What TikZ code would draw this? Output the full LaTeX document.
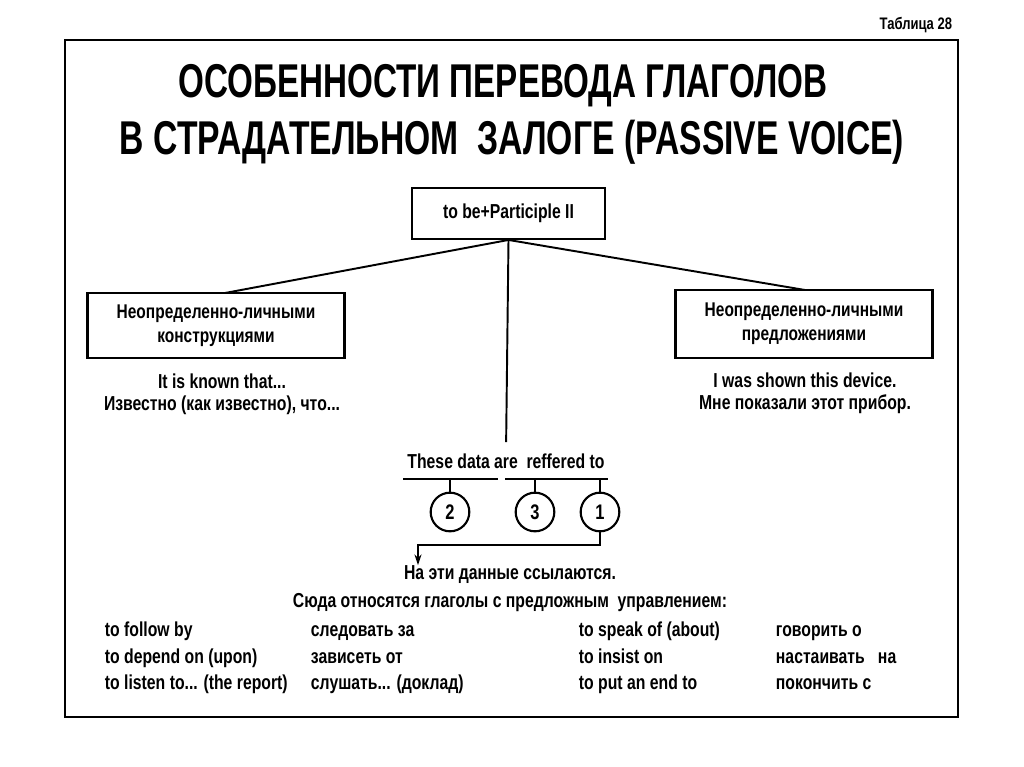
\documentclass[tikz,border=0pt]{standalone}
\usepackage{fontspec}
\setmainfont{Liberation Sans}[FakeStretch=0.78]
\newfontfamily\titlefont{Liberation Sans}[FakeStretch=0.70]
\usetikzlibrary{arrows.meta}
\begin{document}
\begin{tikzpicture}[x=0.02cm,y=-0.02cm,
  line width=1.1pt,
  box/.style={draw,line width=1.2pt,align=center,font=\bfseries\fontsize{11.3}{13.6}\selectfont,inner sep=0pt},
  txt/.style={font=\bfseries\fontsize{11.5}{12.5}\selectfont,inner sep=0pt,align=center},
  ltxt/.style={font=\bfseries\fontsize{11.5}{12.5}\selectfont,inner sep=0pt,anchor=base west},
  title/.style={font=\titlefont\bfseries\fontsize{27}{30}\selectfont,inner sep=0pt},
  circ/.style={draw,circle,minimum size=22pt,inner sep=0pt,font=\bfseries\fontsize{12}{12}\selectfont,line width=1.2pt}
]
\useasboundingbox (0,0) rectangle (1024,767);
\draw[line width=1.4pt] (65,40) rectangle (958,717);
\node[font=\bfseries\fontsize{9.5}{12}\selectfont,inner sep=0pt,anchor=east] (tab) at (953,25) {Таблица 28};
\node[title] (t1) at (503,86) {ОСОБЕННОСТИ ПЕРЕВОДА ГЛАГОЛОВ};
\node[title,font=\titlefont\bfseries\fontsize{27}{30}\selectfont] (t2) at (512,142) {\addfontfeature{FakeStretch=0.71}В СТРАДАТЕЛЬНОМ\ \ ЗАЛОГЕ (PASSIVE VOICE)};
\node[box,minimum width=109.4pt,minimum height=28.9pt,font=\bfseries\fontsize{11.5}{13}\selectfont] (top) at (508.5,213.5) {to be+Participle II};
\node[box,minimum width=146.3pt,minimum height=36.9pt] (L) at (216,325.5) {Неопределенно-личными\\конструкциями};
\node[box,minimum width=146.3pt,minimum height=38.6pt] (R) at (804,324) {Неопределенно-личными\\предложениями};
\coordinate (lt) at (225,293);
\coordinate (rt) at (805,290);
\draw (top.south) -- (lt);
\draw (top.south) -- (rt);
\node[txt] (le) at (222,394) {It is known that...\\Известно (как известно), что...};
\node[txt] (re) at (805,393) {I was shown this device.\\Мне показали этот прибор.};
\node[txt] (tdata) at (506,461) {These data are\ \ reffered to};
\draw[shorten >=6pt] (top.south) -- (tdata.north);
\coordinate (a1) at (403,479);
\coordinate (a2) at (498,479);
\coordinate (b1) at (505,479);
\coordinate (b2) at (608,479);
\draw (a1) -- (a2);
\draw (b1) -- (b2);
\node[circ] (c2) at (450,512) {2};
\node[circ] (c3) at (535,512) {3};
\node[circ] (c1) at (600,512) {1};
\draw (c2.north) -- (c2.north |- a1);
\draw (c3.north) -- (c3.north |- b1);
\draw (c1.north) -- (c1.north |- b1);
\node[txt] (na) at (510,575) {На эти данные ссылаются.};
\coordinate (k) at (600,545);
\coordinate (k2) at (418,545);
\draw[-{Stealth[length=6pt,width=4pt]}] (c1.south) -- (k) -- (k2) -- (k2 |- na.north);
\node[txt] (s) at (510,603) {Сюда относятся глаголы с предложным\ \ управлением:};
\node[ltxt] (r11) at (104,636) {to follow by};
\node[ltxt] (r21) at (104,663) {to depend on (upon)};
\node[ltxt] (r31) at (104,689) {to listen to... (the report)};
\node[ltxt] (r12) at (310,636) {следовать за};
\node[ltxt] (r22) at (310,663) {зависеть от};
\node[ltxt] (r32) at (310,689) {слушать... (доклад)};
\node[ltxt] (r13) at (578,636) {to speak of (about)};
\node[ltxt] (r23) at (578,663) {to insist on};
\node[ltxt] (r33) at (578,689) {to put an end to};
\node[ltxt] (r14) at (775,636) {говорить о};
\node[ltxt] (r24) at (775,663) {настаивать\ \ \ на};
\node[ltxt] (r34) at (775,689) {покончить с};
\end{tikzpicture}
\end{document}
